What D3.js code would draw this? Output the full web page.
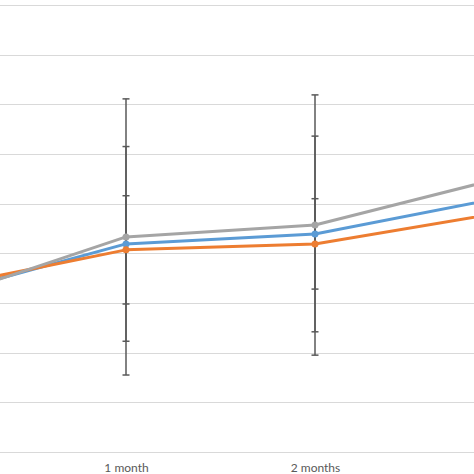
<!DOCTYPE html>
<html>
<head>
<meta charset="utf-8">
<script src="https://cdn.jsdelivr.net/npm/d3@7"></script>
<style>
  body { margin: 0; background: #fff; }
  svg { display: block; }
  .tick text { font-family: Lato, "Open Sans", sans-serif; font-size: 12px; fill: #595959; }
</style>
</head>
<body>
<div id="chart"></div>
<script>
// categories along the time axis
const timepoints = ["Baseline", "1 month", "2 months", "3 months"];

// mean scores per series
const seriesBlue = [3.15, 4.19, 4.39, 5.13];
const seriesOrange = [3.30, 4.07, 4.19, 4.83];
const seriesGray = [3.06, 4.33, 4.57, 5.53];

// error bar half-widths (only the two middle timepoints are visible)
const errBlue = [0, 1.96, 1.97, 0];
const errOrange = [0, 1.09, 0.91, 0];
const errGray = [0, 2.78, 2.62, 0];

const yTicks = [0, 1, 2, 3, 4, 5, 6, 7, 8, 9];

const width = 474, height = 474;

let svg = d3.select("#chart").append("svg")
    .attr("width", width)
    .attr("height", height);

let x = d3.scalePoint()
    .domain(timepoints)
    .range([-63, 504]);

let y = d3.scaleLinear()
    .domain([0, 9])
    .range([452, 5]);

//horizontal gridlines
svg.append("g")
    .selectAll("line")
    .data(yTicks)
    .enter().append("line")
    .attr("x1", 0)
    .attr("x2", width)
    .attr("y1", d => Math.round(y(d)) + 0.5)
    .attr("y2", d => Math.round(y(d)) + 0.5)
    .attr("stroke", "#d9d9d9")
    .attr("stroke-width", 1.2);

//category labels, only the ones that fall inside the cropped view
let visibleTicks = timepoints.filter(t => x(t) > 0 && x(t) < width);
let xAxis = svg.append("g")
    .attr("transform", "translate(0," + y(0) + ")")
    .call(d3.axisBottom(x).tickValues(visibleTicks).tickSize(0).tickPadding(11));
xAxis.select(".domain").remove();

let series = [
    {name: "blue", color: "#5b9bd5", values: seriesBlue, err: errBlue},
    {name: "orange", color: "#ed7d31", values: seriesOrange, err: errOrange},
    {name: "gray", color: "#a5a5a5", values: seriesGray, err: errGray}
];

//error bars
let errG = svg.append("g");
series.forEach(s => {
    s.values.forEach((v, i) => {
        if (!s.err[i]) return;
        let cx = x(timepoints[i]);
        let top = y(v + s.err[i]), bottom = y(v - s.err[i]);
        errG.append("line")
            .attr("x1", cx).attr("x2", cx)
            .attr("y1", top).attr("y2", bottom)
            .attr("stroke", "#595959").attr("stroke-width", 1.5);
        [top, bottom].forEach(cy => {
            errG.append("line")
                .attr("x1", cx - 3.5).attr("x2", cx + 3.5)
                .attr("y1", cy).attr("y2", cy)
                .attr("stroke", "#595959").attr("stroke-width", 1.5);
        });
    });
});

let line = d3.line()
    .x((d, i) => x(timepoints[i]))
    .y(d => y(d));

//lines with markers
series.forEach(s => {
    svg.append("path")
        .datum(s.values)
        .attr("fill", "none")
        .attr("stroke", s.color)
        .attr("stroke-width", 3)
        .attr("stroke-linejoin", "round")
        .attr("d", line);

    svg.append("g")
        .selectAll("circle")
        .data(s.values)
        .enter().append("circle")
        .attr("cx", (d, i) => x(timepoints[i]))
        .attr("cy", d => y(d))
        .attr("r", 3.5)
        .attr("fill", s.color);
});
</script>
</body>
</html>
